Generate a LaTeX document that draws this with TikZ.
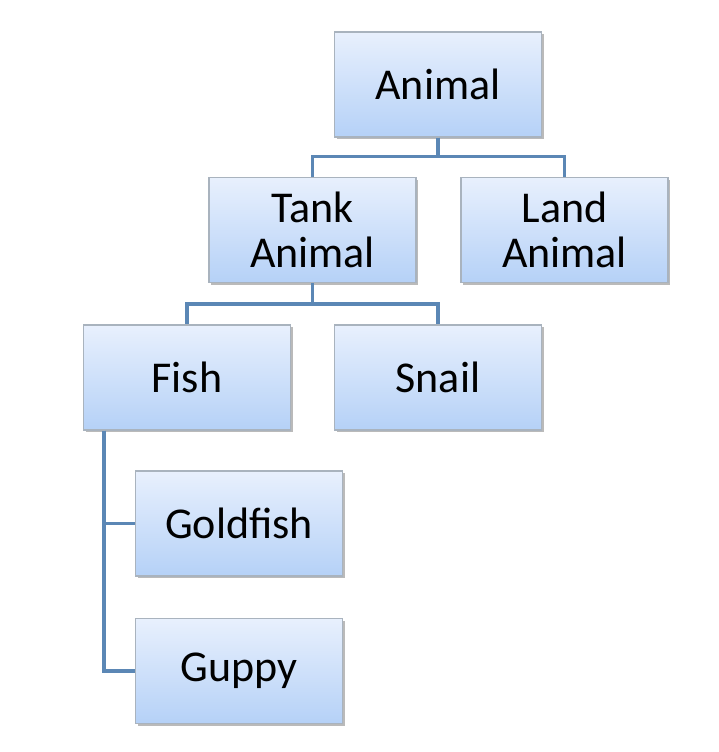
\documentclass[tikz,border=0pt]{standalone}
\usepackage{fontspec}
\setmainfont{Carlito}
\usetikzlibrary{shadows}
\definecolor{boxtop}{HTML}{E8F0FD}
\definecolor{boxbot}{HTML}{B5D1F7}
\definecolor{boxline}{HTML}{A9B3BE}
\definecolor{conn}{HTML}{5B87B5}
\tikzset{
  hbox/.style={draw=boxline, line width=1.2pt, top color=boxtop, bottom color=boxbot,
    minimum width=207pt, minimum height=105pt, inner sep=0pt, align=center,
    font=\fontsize{44}{45}\selectfont, text=black,
    drop shadow={shadow xshift=2pt, shadow yshift=-2pt, fill=black!45, opacity=0.6}},
  link/.style={draw=conn, line width=3.3pt}
}
\begin{document}
\begin{tikzpicture}[x=1pt,y=-1pt]
\useasboundingbox (0,0) rectangle (718,752);
\fill[white] (0,0) rectangle (718,752);
\node[hbox] (animal) at (438,84.5) {Animal};
\node[hbox] (tank) at (312.5,230) {Tank\\Animal};
\node[hbox] (land) at (564.5,230) {Land\\Animal};
\node[hbox] (fish) at (187,377.5) {Fish};
\node[hbox] (snail) at (438,377.5) {Snail};
\node[hbox] (gold) at (239,523.5) {Goldfish};
\node[hbox] (guppy) at (239,671) {Guppy};
\draw[link] (animal.south) -- ++(0,19) -| (tank.north);
\draw[link] (animal.south) -- ++(0,19) -| (land.north);
\draw[link] (tank.south) -- ++(0,21) -| (fish.north);
\draw[link] (tank.south) -- ++(0,21) -| (snail.north);
\draw[link] (fish.south -| 104,0) |- (gold.west);
\draw[link] (fish.south -| 104,0) |- (guppy.west);
\end{tikzpicture}
\end{document}
